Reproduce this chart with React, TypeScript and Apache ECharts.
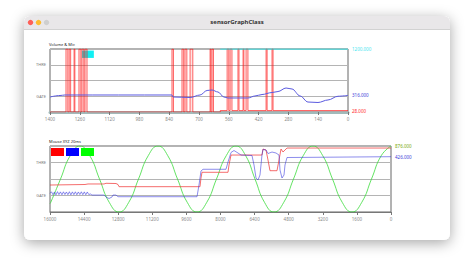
import React, { useEffect, useRef } from "react";
import * as echarts from "echarts";

// ---------- Top chart: Volume & Mic ----------
const topXTicks = { min: 0, max: 1400, interval: 140 };
const topYLabels: Record<number, string> = { 900: "THRE", 300: "GATE" };
// mic spikes (x ranges, high value)
const micSpikes: [number, number][] = [
  [1325, 1316], [1310, 1303], [1287, 1283], [1264, 1255], [1250, 1241], [1236, 1226],
  [827, 820], [780, 772], [766, 757], [742, 729], [648, 644], [639, 632],
  [568, 560], [554, 545], [517, 512], [493, 489], [479, 470], [385, 380], [357, 352],
];
const micPeak = 1200;
const micBaseStepX = 600;
const micBaseBefore = 0;
const micBaseAfter = 28;
const micLast = 28;
// volume line
const volumeX = [1400, 1353, 1330, 827, 822, 742, 695, 662, 639, 611, 583, 564, 470, 437, 404, 357, 329, 291, 263, 225, 188, 141, 94, 47, 0];
const volumeY = [286, 314, 324, 324, 286, 276, 324, 410, 419, 381, 286, 267, 267, 305, 333, 371, 390, 457, 438, 305, 190, 181, 229, 300, 316];
// level line (cyan)
const levelX = [600, 0];
const levelY = [1200, 1200];
const levelBlock = { x1: 1250, x2: 1194, y1: 1030, y2: 1170 };
const topEndLabels = { level: "1200.000", volume: "316.000", mic: "28.000" };

// ---------- Bottom chart: Mouse XYZ 20ms ----------
const botXTicks = { min: 0, max: 16000, interval: 1600 };
const botYLabels: Record<number, string> = { 657: "THRE", 219: "GATE" };
const mouseXx = [16000, 14358, 14217, 13466, 13372, 12903, 12809, 12762, 8962, 8915, 8868, 7648, 7601, 7507, 6053, 6006, 5865, 5771, 5678, 5349, 5255, 5161, 5067, 4880, 0];
const mouseXv = [358, 365, 372, 372, 381, 378, 365, 336, 336, 451, 527, 527, 624, 756, 756, 836, 823, 690, 548, 548, 690, 836, 796, 849, 849];
const mouseYx = [
  16000, 15930, 15860, 15790, 15720, 15650, 15580, 15510, 15440, 15370, 15300, 15230, 15160, 15090, 15020,
  14950, 14880, 14810, 14740, 14670, 14600, 14530, 14460, 14390, 14320, 14250, 14180, 14110, 14029,
  13466, 13372, 13232, 13091, 13044, 12903, 12809, 9102, 9009, 8915, 8821, 7742, 7648, 7507, 7366, 7179, 7038,
  6522, 6428, 6334, 6240, 6147, 6053, 6006, 5865, 5771, 5584, 5396, 5255, 5208, 5114, 5020, 4973, 4880, 0,
];
const mouseYv = [
  248, 268, 230, 266, 228, 270, 231, 267, 229, 268, 232, 266, 230, 269, 228,
  267, 231, 268, 229, 266, 232, 268, 230, 267, 229, 266, 231, 240, 225,
  225, 199, 179, 199, 225, 225, 203, 203, 358, 544, 567, 567, 663, 790, 816, 783, 756,
  750, 624, 451, 425, 491, 756, 829, 823, 776, 796, 783, 756, 557, 451, 491, 624, 723, 734,
];
const mouseZx = [16000, 15965, 15507, 15050, 14592, 14135, 13677, 13220, 12762, 12305, 11847, 11390, 10932, 10475, 10017, 9560, 9102, 8645, 8188, 7730, 7273, 6820, 6381, 5935, 5490, 5032, 4575, 4118, 3660, 3203, 2745, 2288, 1830, 1372, 915, 457, 0];
const mouseZv = [112, 128, 438, 748, 876, 748, 438, 128, 0, 128, 438, 748, 876, 748, 438, 128, 0, 128, 438, 748, 876, 748, 438, 128, 0, 128, 438, 748, 876, 748, 438, 128, 0, 128, 438, 748, 876];
const botEndLabels = { z: "876.000", y: "426.000" };
const legendNames = ["X", "Y", "Z"];

const zip = (xs: number[], ys: number[]) => xs.map((x, i) => [x, ys[i]]);

function micData() {
  const baseAt = (x: number) => (x > micBaseStepX ? micBaseBefore : micBaseAfter);
  const out: number[][] = [[1400, baseAt(1400)]];
  const spikesSorted = [...micSpikes].sort((a, b) => b[0] - a[0]);
  let stepDone = false;
  for (const [s, e] of spikesSorted) {
    if (!stepDone && s < micBaseStepX) {
      out.push([micBaseStepX, micBaseBefore], [micBaseStepX, micBaseAfter]);
      stepDone = true;
    }
    out.push([s, baseAt(s)], [s, micPeak], [e, micPeak], [e, baseAt(e)]);
  }
  out.push([0, micLast]);
  return out;
}

const FONT = "Noto Sans";
const axisLabelStyle = { fontSize: 4.5, color: "#888", fontFamily: FONT };

export default function App() {
  const ref = useRef<HTMLDivElement>(null);
  useEffect(() => {
    if (!ref.current) return;
    const chart = echarts.init(ref.current, undefined, { renderer: "svg" });
    const xAxisCommon = (t: { min: number; max: number; interval: number }, gridIndex: number, lineColor: string, lineWidth: number) => ({
      type: "value",
      gridIndex,
      inverse: true,
      min: t.min,
      max: t.max,
      interval: t.interval,
      axisLine: { show: true, lineStyle: { color: lineColor, width: lineWidth } },
      axisTick: { show: true, length: 3, lineStyle: { color: "#777" } },
      axisLabel: { ...axisLabelStyle, margin: 4, showMinLabel: true, showMaxLabel: true, formatter: (v: number) => String(v) },
      splitLine: { show: false },
    });
    const yAxisCommon = (gridIndex: number, max: number, interval: number, labels: Record<number, string>) => ({
      type: "value",
      gridIndex,
      min: 0,
      max,
      interval,
      axisLine: { show: false },
      axisTick: { show: false },
      axisLabel: { fontSize: 4, color: "#777", fontFamily: FONT, margin: 4, formatter: (v: number) => labels[v] || "" },
      splitLine: { show: true, lineStyle: { color: "#b4b4b4", width: 1 } },
    });
    const endLbl = (text: string, color: string) => ({
      show: true,
      formatter: () => text,
      color,
      fontSize: 4.5,
      fontFamily: FONT,
      distance: 0,
      align: "left",
      offset: [4, 0],
    });
    chart.setOption({
      animation: false,
      backgroundColor: "#ffffff",
      graphic: [
        {
          type: "rect", z: -10, silent: true,
          shape: { x: 24, y: 16, width: 426, height: 224, r: 6 },
          style: { fill: "#ffffff", shadowBlur: 14, shadowColor: "rgba(0,0,0,0.35)", shadowOffsetY: 3 },
        },
        {
          type: "rect", z: -9, silent: true,
          shape: { x: 24, y: 16, width: 426, height: 13, r: [6, 6, 0, 0] },
          style: { fill: "#e9e7e9" },
        },
        { type: "line", z: -9, silent: true, shape: { x1: 24, y1: 29.5, x2: 450, y2: 29.5 }, style: { stroke: "#d2d2d2", lineWidth: 1 } },
        { type: "circle", z: -8, silent: true, shape: { cx: 30.5, cy: 22.5, r: 2.7 }, style: { fill: "#fe5f57" } },
        { type: "circle", z: -8, silent: true, shape: { cx: 38.5, cy: 22.5, r: 2.7 }, style: { fill: "#febc2e" } },
        { type: "circle", z: -8, silent: true, shape: { cx: 46.5, cy: 22.5, r: 2.7 }, style: { fill: "#cfcfcf" } },
      ],
      title: [
        { text: "sensorGraphClass", left: "center", top: 19, padding: 0, textStyle: { fontSize: 6, fontWeight: "bold", color: "#333", fontFamily: FONT } },
        { text: "Volume & Mic", left: 49, top: 42, padding: 0, textStyle: { fontSize: 4, fontWeight: "normal", color: "#222", fontFamily: FONT } },
        { text: "Mouse XYZ 20ms", left: 49, top: 139, padding: 0, textStyle: { fontSize: 4, fontWeight: "normal", color: "#222", fontFamily: FONT } },
      ],
      legend: {
        left: 51, top: 148, padding: 0, itemGap: 2, itemWidth: 13, itemHeight: 8, icon: "rect",
        data: legendNames, formatter: () => "", selectedMode: false,
        textStyle: { fontSize: 1 },
      },
      grid: [
        { left: 50, top: 49, width: 298, height: 63, show: true, borderColor: "#666", borderWidth: 1, backgroundColor: "transparent" },
        { left: 50, top: 146, width: 341, height: 66, show: true, borderColor: "#666", borderWidth: 1, backgroundColor: "transparent" },
      ],
      xAxis: [xAxisCommon(topXTicks, 0, "#a2baba", 3), xAxisCommon(botXTicks, 1, "#777", 1)],
      yAxis: [yAxisCommon(0, 1200, 300, topYLabels), yAxisCommon(1, 876, 219, botYLabels)],
      series: [
        {
          name: "mic", type: "line", xAxisIndex: 0, yAxisIndex: 0, data: micData(), symbol: "none",
          lineStyle: { color: "rgba(255,20,20,0.8)", width: 0.8 },
          areaStyle: { color: "rgba(255,70,70,0.22)" },
          itemStyle: { color: "#ff2020" },
          endLabel: endLbl(topEndLabels.mic, "#ff2a2a"),
          z: 3,
        },
        {
          name: "volume", type: "line", xAxisIndex: 0, yAxisIndex: 0, data: zip(volumeX, volumeY), symbol: "none",
          smooth: 0.35, smoothMonotone: "x",
          lineStyle: { color: "#5a5ae0", width: 1 },
          itemStyle: { color: "#4040e0" },
          endLabel: endLbl(topEndLabels.volume, "#3a3ad8"),
          z: 4,
        },
        {
          name: "level", type: "line", xAxisIndex: 0, yAxisIndex: 0, data: zip(levelX, levelY), symbol: "none",
          lineStyle: { color: "#18eef2", width: 1 },
          itemStyle: { color: "#18eef2" },
          endLabel: endLbl(topEndLabels.level, "#3fe6f0"),
          markArea: {
            silent: true,
            itemStyle: { color: "#10f0f4" },
            data: [[{ xAxis: levelBlock.x1, yAxis: levelBlock.y1 }, { xAxis: levelBlock.x2, yAxis: levelBlock.y2 }]],
          },
          z: 5,
        },
        {
          name: "X", type: "line", xAxisIndex: 1, yAxisIndex: 1, data: zip(mouseXx, mouseXv), symbol: "none",
          itemStyle: { color: "#ff0000" },
          lineStyle: { color: "rgba(240,60,60,0.75)", width: 1 },
          z: 3,
        },
        {
          name: "Y", type: "line", xAxisIndex: 1, yAxisIndex: 1, data: zip(mouseYx, mouseYv), symbol: "none",
          itemStyle: { color: "#0000ff" },
          lineStyle: { color: "rgba(50,50,220,0.7)", width: 0.8 },
          endLabel: endLbl(botEndLabels.y, "#3a3ad8"),
          z: 4,
        },
        {
          name: "Z", type: "line", xAxisIndex: 1, yAxisIndex: 1, data: zip(mouseZx, mouseZv), symbol: "none",
          smooth: 0.5,
          itemStyle: { color: "#00ff00" },
          lineStyle: { color: "rgba(60,220,60,0.8)", width: 1 },
          endLabel: endLbl(botEndLabels.z, "#76a80c"),
          z: 2,
        },
      ],
    });
    return () => chart.dispose();
  }, []);
  return <div ref={ref} style={{ position: "fixed", left: 0, top: 0, width: 474, height: 272 }} />;
}
